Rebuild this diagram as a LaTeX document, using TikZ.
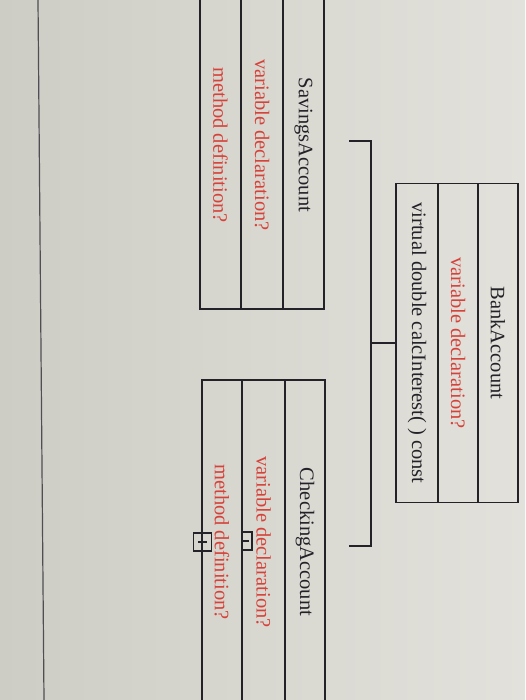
\documentclass[tikz,border=0pt]{standalone}
\usepackage{fontspec}
\setmainfont{Liberation Serif}
\definecolor{paperA}{RGB}{206,205,197}
\definecolor{paperB}{RGB}{226,225,219}
\definecolor{ink}{RGB}{34,34,40}
\definecolor{redtxt}{RGB}{214,66,58}
\tikzset{
  cell/.style={draw=ink, line width=1.4pt, rectangle, rotate=-90, inner sep=0pt,
    font=\fontsize{20.5}{22}\selectfont, text=ink},
  redcell/.style={cell, text=redtxt},
  wire/.style={draw=ink, line width=1.4pt},
  handle/.style={draw=ink, line width=1.2pt, rectangle, inner sep=0pt}
}
\begin{document}
\begin{tikzpicture}[x=1pt,y=-1pt]
\useasboundingbox (0,0) rectangle (525,700);
\shade[left color=paperA, right color=paperB] (0,0) rectangle (525,700);
% page edge line
\coordinate (edgeTop) at (38,0);
\coordinate (edgeBot) at (44,700);
\draw[draw=ink!80, line width=1.2pt] (edgeTop) -- (edgeBot);
% BankAccount
\node[cell, minimum width=319, minimum height=40] (bankName) at (498,343) {BankAccount};
\node[redcell, minimum width=319, minimum height=40] (bankVar) at (458,343) {variable declaration?};
\node[cell, minimum width=319, minimum height=42] (bankOp) at (417,343) {virtual double calcInterest( ) const};
% SavingsAccount
\node[cell, minimum width=328, minimum height=41] (savName) at (303.5,145) {SavingsAccount};
\node[redcell, minimum width=328, minimum height=42] (savVar) at (262,145) {variable declaration?};
\node[redcell, minimum width=328, minimum height=41] (savOp) at (220.5,145) {method definition?};
% CheckingAccount
\node[cell, minimum width=324, minimum height=40] (chkName) at (305,542) {CheckingAccount};
\node[redcell, minimum width=324, minimum height=43] (chkVar) at (263.5,542) {variable declaration?};
\node[redcell, minimum width=324, minimum height=40] (chkOp) at (222,542) {method definition?};
% inheritance bracket
\coordinate (brTop) at (371,141);
\coordinate (brBot) at (371,546);
\coordinate (tickTop) at (349,141);
\coordinate (tickBot) at (349,546);
\draw[wire] (bankOp.south) -- (bankOp.south -| brTop);
\draw[wire] (tickTop) -- (brTop) -- (brBot) -- (tickBot);
% handles
\node[handle, minimum width=18, minimum height=18] (plusBox) at (202.5,542) {};
\draw[draw=ink, line width=1.1pt] ([xshift=-4.5]plusBox.center) -- ([xshift=4.5]plusBox.center)
  ([yshift=-4.5]plusBox.center) -- ([yshift=4.5]plusBox.center);
\node[handle, minimum width=10, minimum height=18] (minusBox) at (247,541) {};
\draw[draw=ink, line width=1.1pt] (minusBox.west) -- ([xshift=2]minusBox.center);
\end{tikzpicture}
\end{document}
